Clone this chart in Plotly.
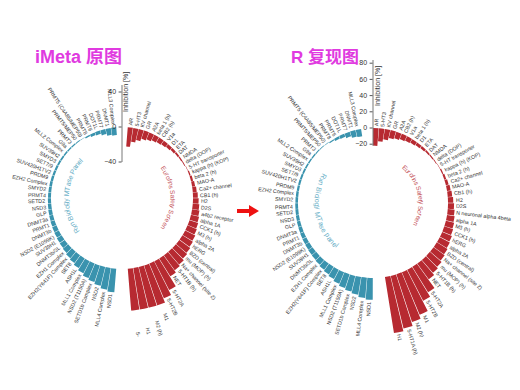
import math
import plotly.graph_objects as go

# The page adds an 8px body margin, so the figure is drawn 8px in from the top-left corner.
OFF = 8
FW, FH = 512, 382

# ---------------- data ----------------
red_labels_orig = ["AR", "5-HT3", "KV channel", "GR", "A2A", "beta 1 (h)", "CB2 (h)", "V1a", "D1", "ETA",
                   "DAT", "NMDA", "delta (DOP)", "5-HT transporter", "kappa (h) (KOP)", "beta 2 (h)", "MAO-A",
                   "Ca2+ channel", "CB1 (h)", "H2", "D2S", "a4b2 receptor", "alpha 1A", "CCK1 (h)", "M3 (h)",
                   "alpha 2A", "hERG", "BZD (central)", "mu (MOP) (h)", "Na+ channel (site 2)", "5-HT1B (h)",
                   "NET", "5-HT2A", "5-HT2B", "M1", "M2 (h)", "H1", "5-"]
red_labels_repro = ["AR", "5-HT3", "KV channel", "GR", "A2A", "CB2 (h)", "V1a", "beta 1 (h)", "D1", "ETA",
                    "DAT", "NMDA", "delta (DOP)", "5-HT transporter", "kappa (h) (KOP)", "beta 2 (h)",
                    "Ca2+ channel", "MAO-A", "CB1 (h)", "H2", "D2S", "N neuronal alpha 4beta 2", "alpha 1A",
                    "M3 (h)", "CCK1 (h)", "hERG", "alpha 2A", "BZD (central)", "Na+ channel (site 2)",
                    "mu (MOP) (h)", "5-HT1B (h)", "NET", "5-HT2A", "5-HT2B", "M1", "M2 (h)", "5-HT1A (h)", "H1"]
red_values = [-22, -16, -13, -10, -8.5, -7, -6, -5, -4, -3,
              -2, -1.5, -1, 0.5, 1.5, 2.5, 3.5,
              4.5, 5.5, 6.5, 7.5, 8.5, 9.5, 10.5, 11.5,
              13, 14, 15.5, 17, 19, 21,
              24, 37, 43, 57, 62, 67, 70]

blue_labels = ["MLL3 Complex", "DNMT1", "PRMT7", "DOT1L", "PRMT6", "PRMT8", "PRMT5 (C4A85/MEP50)",
               "PRMT5/MEP50", "PRMT3", "G9a", "MLL2 Complex", "SUV39H2", "SMYD3", "SET7/9", "SUV420H1TV2",
               "PRDM9", "EZH2 Complex", "SMYD2", "PRMT4", "SETD2", "NSD3", "GLP", "DNMT3a", "PRMT1", "DNMT3b",
               "NSD2 (E1099K)", "SUV39H1", "DNMT3b/3L", "EZH1 Complex", "EZH2(Y641F) Complex", "SET8",
               "ASH1L", "MLL1 Complex", "NSD2 (T1150A)", "SETD1b Complex", "NSD2", "MLL4 Complex", "NSD1"]
blue_values = [-9, -8, -6, -4, -3, -1.5, 0.5, 1, 1.3, 1.6, 1.8, 2, 2.2, 2.4, 2.6,
               2.8, 3, 3.2, 3.4, 3.6, 3.9, 4.2, 4.5, 4.9, 5.3,
               5.8, 6.4, 7, 8, 9.5, 11,
               13, 15.5, 18, 20, 22, 25, 27]

radial_ticks_orig = [-40, 0, 40]
radial_ticks_repro = [-20, 0, 20, 40, 60, 80]

RED = "#B72A31"
BLUE = "#3A93AE"
LABEL_FONT = "Liberation Sans, Arial, sans-serif"
CJK_FONT = "Liberation Sans, Noto Sans CJK SC, sans-serif"
LABEL_SIZE = 5.3

CW = {' ': .278, 'a': .556, 'b': .556, 'c': .5, 'd': .556, 'e': .556, 'f': .278, 'g': .556, 'h': .556,
      'i': .222, 'j': .222, 'k': .5, 'l': .222, 'm': .833, 'n': .556, 'o': .556, 'p': .556, 'q': .556,
      'r': .333, 's': .5, 't': .278, 'u': .556, 'v': .5, 'w': .722, 'x': .5, 'y': .5, 'z': .5,
      'A': .667, 'B': .667, 'C': .722, 'D': .722, 'E': .667, 'F': .611, 'G': .778, 'H': .722, 'I': .278,
      'J': .5, 'K': .667, 'L': .556, 'M': .833, 'N': .722, 'O': .778, 'P': .667, 'Q': .778, 'R': .722,
      'S': .667, 'T': .611, 'U': .722, 'V': .667, 'W': .944, 'X': .667, 'Y': .667, 'Z': .611,
      '(': .333, ')': .333, '/': .278, '-': .333, '+': .584, '[': .278, ']': .278, '%': .889, '.': .278}


def cw(ch):
    return CW.get(ch, .556)


def text_width(s, size):
    return sum(cw(c) for c in s) * size


def norm_angle(a):
    while a > 180:
        a -= 360
    while a <= -180:
        a += 360
    return a


def to_paper(px, py):
    """screen pixel (in the 520x390 window) -> paper fraction"""
    return (px - OFF) / FW, 1 - (py - OFF) / FH


charts = [
    dict(sub="polar", cx=122, cy=198, R=113, ring=71, scale=0.875, rmin=-40, ticks=radial_ticks_orig,
         red_labels=red_labels_orig, red_start=6.75, blue_start=6.75,
         title="<b>iMeta 原图</b>", title_xy=(78, 57), title_size=18,
         ax_title_xy=(126, 92),
         red_text=("Eurofins Safety Screen", 51, 90, True, 6.5),
         blue_text=("Rxn Biology MTase Panel", 56, 273, True, 7)),
    dict(sub="polar2", cx=373, cy=203, R=143, ring=75, scale=0.81, rmin=-22, ticks=radial_ticks_repro,
         red_labels=red_labels_repro, red_start=2.25, blue_start=11.25,
         title="<b>R 复现图</b>", title_xy=(325, 57), title_size=17,
         ax_title_xy=(378, 86),
         red_text=("Eurofins Safety Screen", 48, 79, True, 6.5),
         blue_text=("Rxn Biology MTase panel", 56, 260, False, 7)),
]

STEP = 4.5

fig = go.Figure()
annotations = []
layout_polars = {}

for ch in charts:
    cx, cy, R, ring, scale, rmin = ch["cx"], ch["cy"], ch["R"], ch["ring"], ch["scale"], ch["rmin"]
    hole = (ring + rmin * scale) / R
    rmax = (R - ring) / scale
    red_theta = [ch["red_start"] + STEP * i for i in range(len(red_values))]
    blue_theta = [-(ch["blue_start"] + STEP * i) for i in range(len(blue_values))]

    fig.add_trace(go.Barpolar(r=red_values, theta=red_theta, width=STEP * 0.93, subplot=ch["sub"],
                              marker=dict(color=RED, line=dict(width=0)), hoverinfo="skip", showlegend=False))
    fig.add_trace(go.Barpolar(r=blue_values, theta=blue_theta, width=STEP * 0.93, subplot=ch["sub"],
                              marker=dict(color=BLUE, line=dict(width=0)), hoverinfo="skip", showlegend=False))
    # invisible companion trace: lets long bars extend beyond the radial range (no clipping)
    fig.add_trace(go.Scatterpolar(r=red_values, theta=red_theta, mode="none", cliponaxis=False,
                                  subplot=ch["sub"], hoverinfo="skip", showlegend=False))

    x0, y0 = to_paper(cx - R, cy + R)
    x1, y1 = to_paper(cx + R, cy - R)
    layout_polars[ch["sub"]] = dict(
        domain=dict(x=[x0, x1], y=[y0, y1]),
        hole=hole,
        bgcolor="rgba(0,0,0,0)",
        angularaxis=dict(visible=False, rotation=90, direction="clockwise"),
        radialaxis=dict(range=[rmin, rmax], angle=90, side="counterclockwise", tickvals=ch["ticks"],
                        ticks="outside", ticklen=3, tickwidth=0.8, tickcolor="#555",
                        showline=True, linecolor="#555", linewidth=0.8, showgrid=False,
                        tickfont=dict(size=7, color="#333", family=LABEL_FONT), tickangle=90),
    )

    # bar labels (radial text)
    def add_labels(labels, values, thetas):
        for lab, v, th in zip(labels, values, thetas):
            fs = LABEL_SIZE
            L = text_width(lab, fs)
            start = ring + max(v, 0) * scale + 2.5
            rad = start + L / 2
            phi = math.radians(th)
            px = cx + rad * math.sin(phi)
            py = cy - rad * math.cos(phi)
            x, y = to_paper(px, py)
            t = th % 360
            ang = t - 90 if t <= 180 else t - 270
            annotations.append(dict(x=x, y=y, xref="paper", yref="paper", text=lab, showarrow=False,
                                    textangle=norm_angle(ang), xanchor="center", yanchor="middle",
                                    font=dict(size=fs, color="#333", family=LABEL_FONT), borderpad=0))

    add_labels(ch["red_labels"], red_values, red_theta)
    add_labels(blue_labels, blue_values, blue_theta)

    # curved inner panel names
    def arc_text(spec, color):
        text, rho, center, clockwise, fs = spec
        widths = [cw(c) * fs for c in text]
        total = sum(widths)
        acc = 0
        for c, w in zip(text, widths):
            s = acc + w / 2 - total / 2
            acc += w
            if c == " ":
                continue
            d = math.degrees(s / rho)
            phi = center + d if clockwise else center - d
            ang = phi if clockwise else phi - 180
            pr = math.radians(phi)
            px = cx + rho * math.sin(pr)
            py = cy - rho * math.cos(pr)
            x, y = to_paper(px, py)
            annotations.append(dict(x=x, y=y, xref="paper", yref="paper", text=c, showarrow=False,
                                    textangle=norm_angle(ang), xanchor="center", yanchor="middle",
                                    font=dict(size=fs, color=color, family=LABEL_FONT), borderpad=0))

    arc_text(ch["red_text"], "#C4535A")
    arc_text(ch["blue_text"], "#67AEC6")

    # radial axis title
    ax_x, ax_y = to_paper(*ch["ax_title_xy"])
    annotations.append(dict(x=ax_x, y=ax_y, xref="paper", yref="paper", text="Inhibition [%]",
                            showarrow=False, textangle=-90, xanchor="center", yanchor="middle",
                            font=dict(size=7, color="#333", family=LABEL_FONT), borderpad=0))

    # panel title
    tx, ty = to_paper(*ch["title_xy"])
    annotations.append(dict(x=tx, y=ty, xref="paper", yref="paper", text=ch["title"], showarrow=False,
                            xanchor="center", yanchor="middle",
                            font=dict(size=ch["title_size"], color="#E03AE0", family=CJK_FONT)))

# red arrow between the panels
arrow_pts = [(237, 209), (249, 209), (249, 205), (259, 211), (249, 217), (249, 213), (237, 213)]
path = "M " + " L ".join("{:.4f},{:.4f}".format(*to_paper(px, py)) for px, py in arrow_pts) + " Z"

fig.update_layout(
    width=FW, height=FH,
    margin=dict(l=0, r=0, t=0, b=0),
    paper_bgcolor="white", plot_bgcolor="white",
    showlegend=False,
    annotations=annotations,
    shapes=[dict(type="path", path=path, xref="paper", yref="paper", fillcolor="#EE1111",
                 line=dict(width=0))],
    **layout_polars,
)

fig.write_html("out.html")
